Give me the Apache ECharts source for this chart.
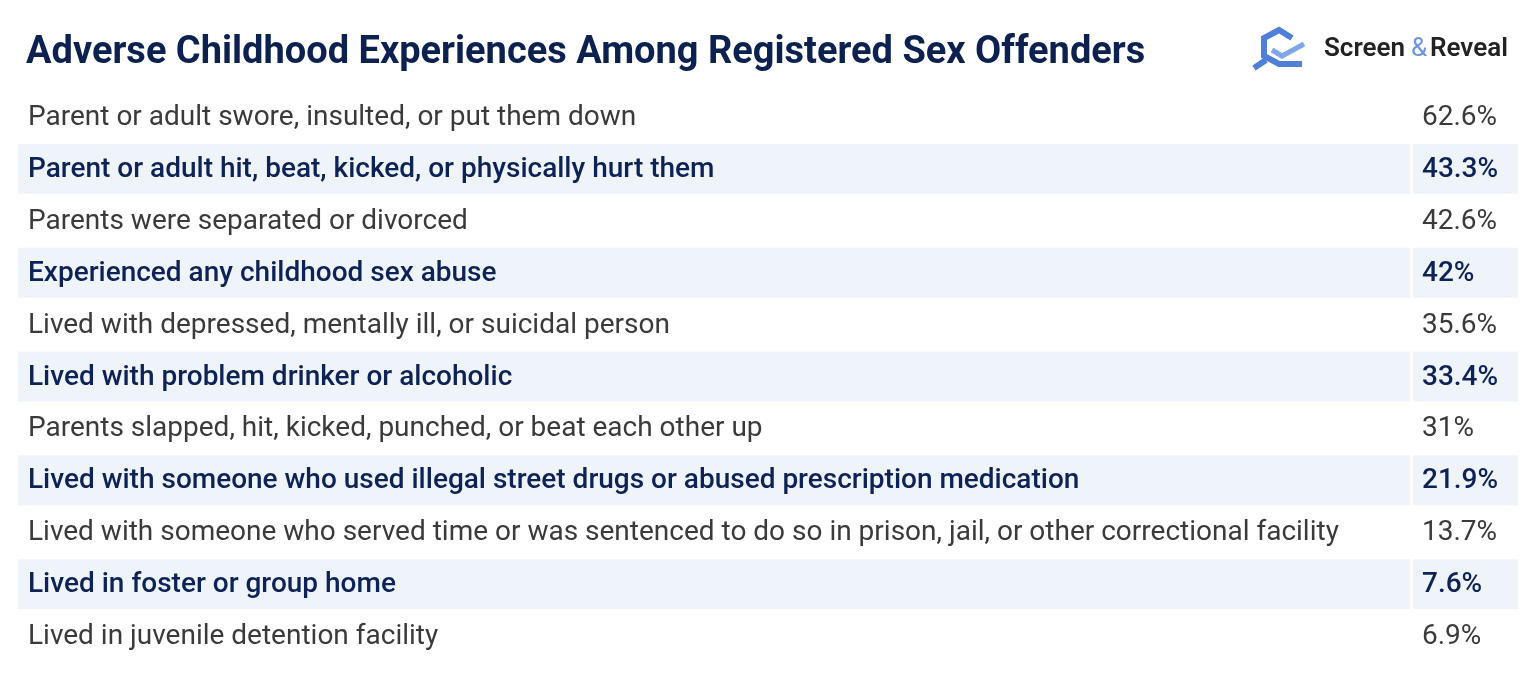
<!DOCTYPE html>
<html><head><meta charset="utf-8">
<script src="https://cdn.jsdelivr.net/npm/echarts@6/dist/echarts.min.js"></script>
<style>html,body{margin:0;background:#fff}#c{width:1536px;height:678px}</style>
</head><body><div id="c"></div>
<script>
const categories = [
 "Parent or adult swore, insulted, or put them down",
 "Parent or adult hit, beat, kicked, or physically hurt them",
 "Parents were separated or divorced",
 "Experienced any childhood sex abuse",
 "Lived with depressed, mentally ill, or suicidal person",
 "Lived with problem drinker or alcoholic",
 "Parents slapped, hit, kicked, punched, or beat each other up",
 "Lived with someone who used illegal street drugs or abused prescription medication",
 "Lived with someone who served time or was sentenced to do so in prison, jail, or other correctional facility",
 "Lived in foster or group home",
 "Lived in juvenile detention facility"
];
const valueLabels = ["62.6%","43.3%","42.6%","42%","35.6%","33.4%","31%","21.9%","13.7%","7.6%","6.9%"];
const values = [62.6,43.3,42.6,42,35.6,33.4,31,21.9,13.7,7.6,6.9];

const chart = echarts.init(document.getElementById('c'));
const F = 'Roboto, "Noto Sans", sans-serif';
chart.setOption({
  animation:false,
  title:{text:'Adverse Childhood Experiences Among Registered Sex Offenders',left:21,top:29,
    textStyle:{fontFamily:F,fontSize:38,fontWeight:'bold',color:'#0c2150'}},
  graphic:[
    {type:'polyline',shape:{points:[[1292,38],[1279,30],[1264,38],[1264,56],[1279,64],[1302,64]]},style:{stroke:'#4f7fd6',lineWidth:6,fill:null}},
    {type:'polyline',shape:{points:[[1272,50],[1282,56],[1304,44]]},style:{stroke:'#7fa6ea',lineWidth:5,fill:null}},
    {type:'line',shape:{x1:1266,y1:60,x2:1254,y2:68},style:{stroke:'#4f7fd6',lineWidth:6}},
    {type:'text',left:1324,top:36,style:{text:'Screen',font:'600 26px '+F,fill:'#222'}},
    {type:'text',left:1411,top:36,style:{text:'&',font:'400 26px '+F,fill:'#6d95dd'}},
    {type:'text',left:1430,top:36,style:{text:'Reveal',font:'600 26px '+F,fill:'#222'}}
  ],
  grid:{left:18,right:18,top:91,bottom:16},
  xAxis:{type:'value',min:0,max:1,show:false},
  yAxis:{type:'category',data:categories,inverse:true,show:false},
  series:[{
    type:'custom',
    data:categories.map((c,i)=>[0,i,values[i]]),
    encode:{x:0,y:1},
    renderItem:function(params,api){
      const i=api.value(1);
      const p=api.coord([0,i]);
      const h=api.size([0,1])[1];
      const r=api.coord([1,i]);
      const stripe=i%2===1;
      const top=p[1]-h/2;
      const ch=[];
      const splitX=1410;
      if(stripe){
        ch.push({type:'rect',shape:{x:p[0],y:top+1,width:splitX-p[0],height:h-2},style:{fill:'#eff3fa'}});
        ch.push({type:'rect',shape:{x:splitX+3,y:top+1,width:r[0]-splitX-3,height:h-2},style:{fill:'#eff3fa'}});
      }
      const col=stripe?'#0d2256':'#3a3a3a';
      const fw=stripe?500:400;
      ch.push({type:'text',style:{x:p[0]+10,y:p[1]+1,text:categories[i],verticalAlign:'middle',font:fw+' 28px '+F,fill:col}});
      ch.push({type:'text',style:{x:splitX+12,y:p[1]+1,text:valueLabels[i],verticalAlign:'middle',font:fw+' 28px '+F,fill:col}});
      return {type:'group',children:ch};
    }
  }]
});
</script></body></html>
